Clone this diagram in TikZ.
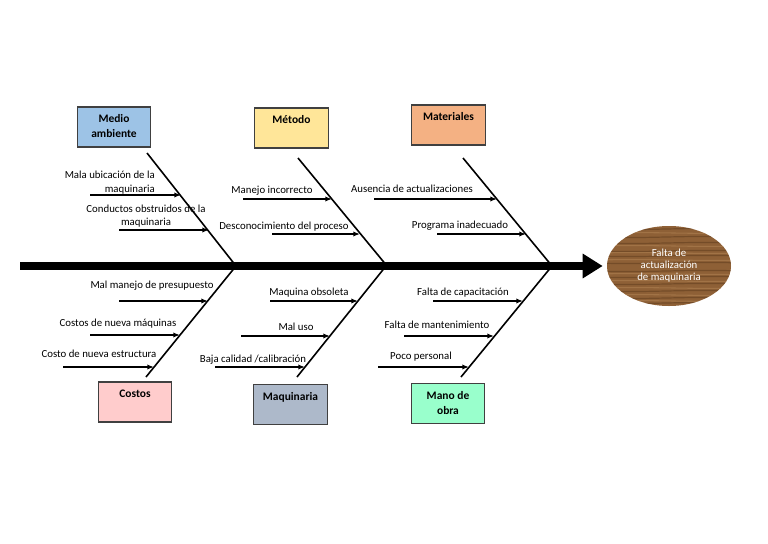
\documentclass[tikz,border=0pt]{standalone}
\usepackage{fontspec}
\setmainfont{Carlito}
\usetikzlibrary{arrows.meta,shapes.geometric}
\definecolor{medioblue}{RGB}{157,195,230}
\definecolor{metodoyellow}{RGB}{255,230,153}
\definecolor{materialorange}{RGB}{244,177,131}
\definecolor{costopink}{RGB}{255,204,204}
\definecolor{maquigray}{RGB}{173,185,202}
\definecolor{obragreen}{RGB}{153,255,204}
\definecolor{wood}{RGB}{142,96,54}
\definecolor{wooddark}{RGB}{96,60,30}
\definecolor{woodlight}{RGB}{178,132,84}
\tikzset{
  catbox/.style={draw=black!75, line width=0.8pt, minimum width=55pt, minimum height=30pt, inner sep=0pt},
  cattext/.style={font=\fontsize{8.6}{11.3}\selectfont\bfseries, align=center, inner sep=6pt},
  bone/.style={line width=1.2pt},
  cause/.style={line width=1.1pt, -{Latex[length=5pt,width=4pt]}},
  causetext/.style={font=\fontsize{8.1}{10}\selectfont, inner sep=0pt, yshift=-1.2pt},
  spine/.style={line width=6pt, -{Triangle[length=15pt,width=17.5pt]}, shorten >=3pt}
}
\begin{document}
\begin{tikzpicture}[x=0.75pt, y=-0.75pt]
  \useasboundingbox (0,0) rectangle (768,543);

  % effect
  \fill[wood] (669,266) ellipse [x radius=62, y radius=40];
  \begin{scope}
    \clip (669,266) ellipse [x radius=62, y radius=40];
    \foreach \y in {229,237,243,251,256,263,271,277,284,291,298,303}
      \draw[wooddark, line width=0.9pt, opacity=0.55] (600,\y) .. controls (640,\y+2) and (690,\y-2) .. (740,\y);
    \foreach \y in {233,246,253,260,274,281,288,295,301}
      \draw[woodlight, line width=0.8pt, opacity=0.55] (600,\y) .. controls (650,\y-1.5) and (700,\y+1.5) .. (740,\y);
  \end{scope}
  \node[ellipse, minimum width=93pt, minimum height=60pt, text=white, align=center,
        font=\fontsize{8.1}{9}\selectfont] (efecto) at (669,266) {Falta de\\actualización\\de maquinaria};

  % spine
  \coordinate (cola) at (20,266);
  \draw[spine] (cola) -- (efecto.west);

  % categories
  \node[catbox, fill=medioblue, label={[cattext, anchor=north]north:Medio\\ambiente}] (medio) at (114,127) {};
  \node[catbox, fill=metodoyellow, label={[cattext, anchor=north]north:Método}] (metodo) at (291.5,128) {};
  \node[catbox, fill=materialorange, label={[cattext, anchor=north]north:Materiales}] (materiales) at (448.5,125) {};
  \node[catbox, fill=costopink, label={[cattext, anchor=north]north:Costos}] (costos) at (135,402) {};
  \node[catbox, fill=maquigray, label={[cattext, anchor=north]north:Maquinaria}] (maquinaria) at (290.5,404.5) {};
  \node[catbox, fill=obragreen, label={[cattext, anchor=north]north:Mano de\\obra}] (manoobra) at (448,403.5) {};

  % bones
  \coordinate (t1a) at (147,153);  \coordinate (t1b) at (236,266);
  \coordinate (t2a) at (298,158);  \coordinate (t2b) at (387,266);
  \coordinate (t3a) at (463,158);  \coordinate (t3b) at (552,266);
  \coordinate (b1a) at (236,266);  \coordinate (b1b) at (146,377);
  \coordinate (b2a) at (386,266);  \coordinate (b2b) at (297,377);
  \coordinate (b3a) at (552,266);  \coordinate (b3b) at (461,377);
  \draw[bone] (t1a) -- (t1b);
  \draw[bone] (t2a) -- (t2b);
  \draw[bone] (t3a) -- (t3b);
  \draw[bone] (b1a) -- (b1b);
  \draw[bone] (b2a) -- (b2b);
  \draw[bone] (b3a) -- (b3b);

  % causes: medio ambiente
  \coordinate (ma1) at (90,195);   \coordinate (ma1e) at (181,195);
  \coordinate (ma2) at (119,230);  \coordinate (ma2e) at (209,230);
  \draw[cause] (ma1) -- (ma1e);
  \draw[cause] (ma2) -- (ma2e);
  \node[causetext, align=right, anchor=east] (ma1t) at (155,181) {Mala ubicación de la\\maquinaria};
  \node[causetext, align=center] (ma2t) at (146,214.5) {Conductos obstruidos de la\\maquinaria};

  % causes: metodo
  \coordinate (me1) at (243,199);  \coordinate (me1e) at (332,199);
  \coordinate (me2) at (272,234);  \coordinate (me2e) at (360,234);
  \draw[cause] (me1) -- (me1e);
  \draw[cause] (me2) -- (me2e);
  \node[causetext] (me1t) at (272,189) {Manejo incorrecto};
  \node[causetext] (me2t) at (284,225) {Desconocimiento del proceso};

  % causes: materiales
  \coordinate (mt1) at (374,199);  \coordinate (mt1e) at (497,199);
  \coordinate (mt2) at (437,234);  \coordinate (mt2e) at (526,234);
  \draw[cause] (mt1) -- (mt1e);
  \draw[cause] (mt2) -- (mt2e);
  \node[causetext] (mt1t) at (412,187) {Ausencia de actualizaciones};
  \node[causetext] (mt2t) at (460,224) {Programa inadecuado};

  % causes: costos
  \coordinate (co1) at (119,301);  \coordinate (co1e) at (208,301);
  \coordinate (co2) at (90,335);   \coordinate (co2e) at (180,335);
  \coordinate (co3) at (63,367);   \coordinate (co3e) at (154,367);
  \draw[cause] (co1) -- (co1e);
  \draw[cause] (co2) -- (co2e);
  \draw[cause] (co3) -- (co3e);
  \node[causetext] (co1t) at (152,284) {Mal manejo de presupuesto};
  \node[causetext] (co2t) at (118,322) {Costos de nueva máquinas};
  \node[causetext] (co3t) at (99,352) {Costo de nueva estructura};

  % causes: maquinaria
  \coordinate (mq1) at (270,301);  \coordinate (mq1e) at (358,301);
  \coordinate (mq2) at (241,336);  \coordinate (mq2e) at (330,336);
  \coordinate (mq3) at (215,367);  \coordinate (mq3e) at (305,367);
  \draw[cause] (mq1) -- (mq1e);
  \draw[cause] (mq2) -- (mq2e);
  \draw[cause] (mq3) -- (mq3e);
  \node[causetext] (mq1t) at (309,291) {Maquina obsoleta};
  \node[causetext] (mq2t) at (296,325) {Mal uso};
  \node[causetext] (mq3t) at (253,358) {Baja calidad /calibración};

  % causes: mano de obra
  \coordinate (mo1) at (433,301);  \coordinate (mo1e) at (523,301);
  \coordinate (mo2) at (404,336);  \coordinate (mo2e) at (494,336);
  \coordinate (mo3) at (378,367);  \coordinate (mo3e) at (469,367);
  \draw[cause] (mo1) -- (mo1e);
  \draw[cause] (mo2) -- (mo2e);
  \draw[cause] (mo3) -- (mo3e);
  \node[causetext] (mo1t) at (463,291) {Falta de capacitación};
  \node[causetext] (mo2t) at (437,323) {Falta de mantenimiento};
  \node[causetext] (mo3t) at (421,355) {Poco personal};
\end{tikzpicture}
\end{document}
